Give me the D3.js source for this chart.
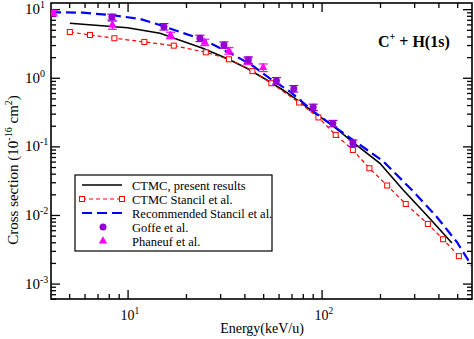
<!DOCTYPE html>
<html>
<head>
<meta charset="utf-8">
<script src="https://cdn.jsdelivr.net/npm/d3@7"></script>
<style>
  body { margin: 0; background: #fff; }
  svg text { font-family: "Liberation Serif", "DejaVu Serif", serif; fill: #000; }
</style>
</head>
<body>
<div id="chart"></div>
<script>
// energies in keV/u, cross sections in 1e-16 cm^2
var ctmcPresentE     = [5.04, 10.0, 14.7, 24.4, 32.5, 41.2, 52.2, 63.2, 77.3, 94.2, 114.8, 151.4, 199.8, 263.4, 347.6, 469.7];
var ctmcPresentSigma = [6.23, 5.37, 4.45, 2.69, 1.91, 1.375, 0.929, 0.664, 0.444, 0.292, 0.198, 0.1047, 0.0567, 0.0231, 0.0100, 0.00391];

var stancilE     = [5.04, 6.4, 8.55, 12.2, 17.3, 25.3, 33.3, 44, 55.1, 76.6, 96.3, 118.2, 145, 176.4, 217.8, 271.4, 353, 423, 510];
var stancilSigma = [4.65, 4.21, 3.77, 3.33, 2.94, 2.35, 1.86, 1.25, 0.832, 0.436, 0.264, 0.147, 0.0887, 0.048, 0.0269, 0.01448, 0.0074, 0.00443, 0.00251];

var recommendedE     = [4.03, 5.88, 8.6, 11.57, 14.66, 19.3, 23.6, 28.9, 36.6, 44.3, 54.1, 68.6, 94.2, 151.4, 207, 295.5, 392.6, 498, 595];
var recommendedSigma = [9.01, 8.89, 8.09, 7.2, 5.89, 4.5, 3.74, 2.86, 2.03, 1.486, 0.977, 0.631, 0.297, 0.114, 0.0612, 0.0224, 0.00935, 0.00404, 0.00181];

var goffeE     = [8.3, 15.4, 23.6, 31.4, 41.9, 58.5, 71.9, 90.5, 114.3, 145];
var goffeSigma = [7.7, 5.56, 3.77, 3.01, 1.82, 0.907, 0.694, 0.372, 0.216, 0.112];
var goffeErr   = [0.75, 0.6, 0.4, 0.32, 0.2, 0.1, 0.075, 0.04, 0.023, 0.012];

var phaneufE     = [4.14, 8.35, 16.65, 25.0, 33.3, 41.7, 50.0];
var phaneufSigma = [8.8, 5.89, 4.16, 3.29, 2.48, 1.76, 1.41];
var phaneufErr   = [0.85, 0.8, 0.45, 0.35, 0.27, 0.19, 0.18];

var xMajor = [10, 100];
var yMajor = [1e-3, 1e-2, 1e-1, 1, 10];

var legendLabels = ['CTMC, present results', 'CTMC Stancil et al.', 'Recommended Stancil et al.', 'Goffe et al.', 'Phaneuf et al.'];

(function () {
  var W = 474, H = 339;
  var frame = { left: 51, right: 472, top: 3, bottom: 299 };

  var svg = d3.select('#chart').append('svg')
      .attr('width', W)
      .attr('height', H);

  var x = d3.scaleLog().domain([4.03, 596]).range([frame.left, frame.right]);
  var y = d3.scaleLog().domain([5.96e-4, 12.3]).range([frame.bottom, frame.top]);

  // minor ticks: 2..9 within each decade inside the domain
  function minorTicks(scale) {
    var d = scale.domain(), out = [];
    for (var e = -5; e <= 5; e++) {
      for (var m = 2; m <= 9; m++) {
        var v = m * Math.pow(10, e);
        if (v > d[0] && v < d[1]) out.push(v);
      }
    }
    return out;
  }

  var plot = svg.append('g');

  function drawAxis(axisFn, scale, tx, ty, values, size) {
    var g = plot.append('g')
        .attr('transform', 'translate(' + tx + ',' + ty + ')')
        .call(axisFn(scale).tickValues(values).tickSize(size).tickFormat(''));
    g.select('.domain').remove();
    g.selectAll('line').attr('stroke', '#000').attr('stroke-width', 1.3);
  }

  // ticks on all four sides, pointing inward
  drawAxis(d3.axisBottom, x, 0, frame.bottom, xMajor, -9);
  drawAxis(d3.axisBottom, x, 0, frame.bottom, minorTicks(x), -5);
  drawAxis(d3.axisTop, x, 0, frame.top, xMajor, -9);
  drawAxis(d3.axisTop, x, 0, frame.top, minorTicks(x), -5);
  drawAxis(d3.axisLeft, y, frame.left, 0, yMajor, -9);
  drawAxis(d3.axisLeft, y, frame.left, 0, minorTicks(y), -5);
  drawAxis(d3.axisRight, y, frame.right, 0, yMajor, -9);
  drawAxis(d3.axisRight, y, frame.right, 0, minorTicks(y), -5);

  plot.append('rect')
      .attr('x', frame.left).attr('y', frame.top)
      .attr('width', frame.right - frame.left).attr('height', frame.bottom - frame.top)
      .attr('fill', 'none').attr('stroke', '#000').attr('stroke-width', 1.6);

  // tick labels as 10^n
  function exponent(v) { return Math.round(Math.log10(v)); }

  var xl = svg.append('g').selectAll('text').data(xMajor).enter().append('text')
      .attr('x', function (d) { return x(d) - 7; })
      .attr('y', 320)
      .attr('font-size', 14);
  xl.append('tspan').text('10');
  xl.append('tspan').attr('dy', -6).attr('font-size', 9.5).text(function (d) { return exponent(d); });

  var yl = svg.append('g').selectAll('text').data(yMajor).enter().append('text')
      .attr('x', 25)
      .attr('y', function (d) { return y(d) + 5; })
      .attr('font-size', 15);
  yl.append('tspan').text('10');
  yl.append('tspan').attr('dy', -6).attr('font-size', 10).text(function (d) { return exponent(d); });

  // axis titles
  svg.append('text')
      .attr('x', 262).attr('y', 333)
      .attr('text-anchor', 'middle')
      .attr('font-size', 14)
      .text('Energy(keV/u)');

  var yt = svg.append('text')
      .attr('transform', 'translate(18,170) rotate(-90)')
      .attr('text-anchor', 'middle')
      .attr('font-size', 15);
  yt.append('tspan').text('Cross section (10');
  yt.append('tspan').attr('dy', -6).attr('font-size', 10).text('-16');
  yt.append('tspan').attr('dy', 6).text(' cm');
  yt.append('tspan').attr('dy', -6).attr('font-size', 10).text('2');
  yt.append('tspan').attr('dy', 6).text(')');

  var ann = svg.append('text')
      .attr('x', 378).attr('y', 47)
      .attr('font-size', 16)
      .attr('font-weight', 'bold');
  ann.append('tspan').text('C');
  ann.append('tspan').attr('dy', -7).attr('font-size', 10).text('+');
  ann.append('tspan').attr('dy', 7).text(' + H(1s)');

  // curves
  var line = d3.line()
      .x(function (d) { return x(d[0]); })
      .y(function (d) { return y(d[1]); });

  function pairs(a, b) { return a.map(function (v, i) { return [v, b[i]]; }); }

  svg.append('clipPath').attr('id', 'clip')
    .append('rect').attr('x', frame.left).attr('y', frame.top)
      .attr('width', frame.right - frame.left).attr('height', frame.bottom - frame.top);

  var series = svg.append('g').attr('clip-path', 'url(#clip)');

  series.append('path')
      .attr('d', line(pairs(ctmcPresentE, ctmcPresentSigma)))
      .attr('fill', 'none').attr('stroke', '#000').attr('stroke-width', 1.6);

  series.append('path')
      .attr('d', line(pairs(stancilE, stancilSigma)))
      .attr('fill', 'none').attr('stroke', '#ff0000').attr('stroke-width', 1.2)
      .attr('stroke-dasharray', '4,3');

  series.selectAll('rect.sq').data(pairs(stancilE, stancilSigma)).enter().append('rect')
      .attr('class', 'sq')
      .attr('x', function (d) { return x(d[0]) - 2.5; })
      .attr('y', function (d) { return y(d[1]) - 2.5; })
      .attr('width', 5).attr('height', 5)
      .attr('fill', '#fff').attr('stroke', '#ff0000').attr('stroke-width', 1);

  series.append('path')
      .attr('d', line(pairs(recommendedE, recommendedSigma)))
      .attr('fill', 'none').attr('stroke', '#0000ff').attr('stroke-width', 2.2)
      .attr('stroke-dasharray', '10,5');

  // experimental points with error bars
  function errorBars(E, S, err, color) {
    var g = series.append('g').attr('stroke', color).attr('stroke-width', 1.2);
    E.forEach(function (e, i) {
      var cx = x(e), y0 = y(S[i] + err[i]), y1 = y(S[i] - err[i]);
      g.append('line').attr('x1', cx).attr('x2', cx).attr('y1', y0).attr('y2', y1);
      g.append('line').attr('x1', cx - 4.5).attr('x2', cx + 4.5).attr('y1', y0).attr('y2', y0);
      g.append('line').attr('x1', cx - 4.5).attr('x2', cx + 4.5).attr('y1', y1).attr('y2', y1);
    });
  }

  errorBars(phaneufE, phaneufSigma, phaneufErr, '#ff00ff');
  errorBars(goffeE, goffeSigma, goffeErr, '#9400d3');

  var tri = d3.symbol().type(d3.symbolTriangle).size(30);
  series.selectAll('path.tri').data(pairs(phaneufE, phaneufSigma)).enter().append('path')
      .attr('class', 'tri')
      .attr('d', tri)
      .attr('transform', function (d) { return 'translate(' + x(d[0]) + ',' + y(d[1]) + ')'; })
      .attr('fill', '#ff00ff');

  series.selectAll('circle.goffe').data(pairs(goffeE, goffeSigma)).enter().append('circle')
      .attr('class', 'goffe')
      .attr('cx', function (d) { return x(d[0]); })
      .attr('cy', function (d) { return y(d[1]); })
      .attr('r', 3.5)
      .attr('fill', '#9400d3');

  // legend
  var lg = svg.append('g');
  lg.append('rect')
      .attr('x', 75).attr('y', 175).attr('width', 197).attr('height', 76)
      .attr('fill', '#fff').attr('stroke', '#000').attr('stroke-width', 1.2);

  var rowY = function (i) { return 185 + i * 14; };

  lg.selectAll('text').data(legendLabels).enter().append('text')
      .attr('x', 132)
      .attr('y', function (d, i) { return rowY(i) + 4.5; })
      .attr('font-size', 12.5)
      .text(function (d) { return d; });

  lg.append('line').attr('x1', 82).attr('x2', 122).attr('y1', rowY(0)).attr('y2', rowY(0))
      .attr('stroke', '#000').attr('stroke-width', 1.6);
  lg.append('line').attr('x1', 82).attr('x2', 122).attr('y1', rowY(1)).attr('y2', rowY(1))
      .attr('stroke', '#ff0000').attr('stroke-width', 1.2).attr('stroke-dasharray', '4,3');
  [82, 122].forEach(function (cx) {
    lg.append('rect').attr('x', cx - 2.5).attr('y', rowY(1) - 2.5).attr('width', 5).attr('height', 5)
        .attr('fill', '#fff').attr('stroke', '#ff0000');
  });
  lg.append('line').attr('x1', 82).attr('x2', 122).attr('y1', rowY(2)).attr('y2', rowY(2))
      .attr('stroke', '#0000ff').attr('stroke-width', 2.2).attr('stroke-dasharray', '10,5');
  lg.append('circle').attr('cx', 103).attr('cy', rowY(3)).attr('r', 3.5).attr('fill', '#9400d3');
  lg.append('path').attr('d', tri)
      .attr('transform', 'translate(103,' + rowY(4) + ')')
      .attr('fill', '#ff00ff');
})();
</script>
</body>
</html>
